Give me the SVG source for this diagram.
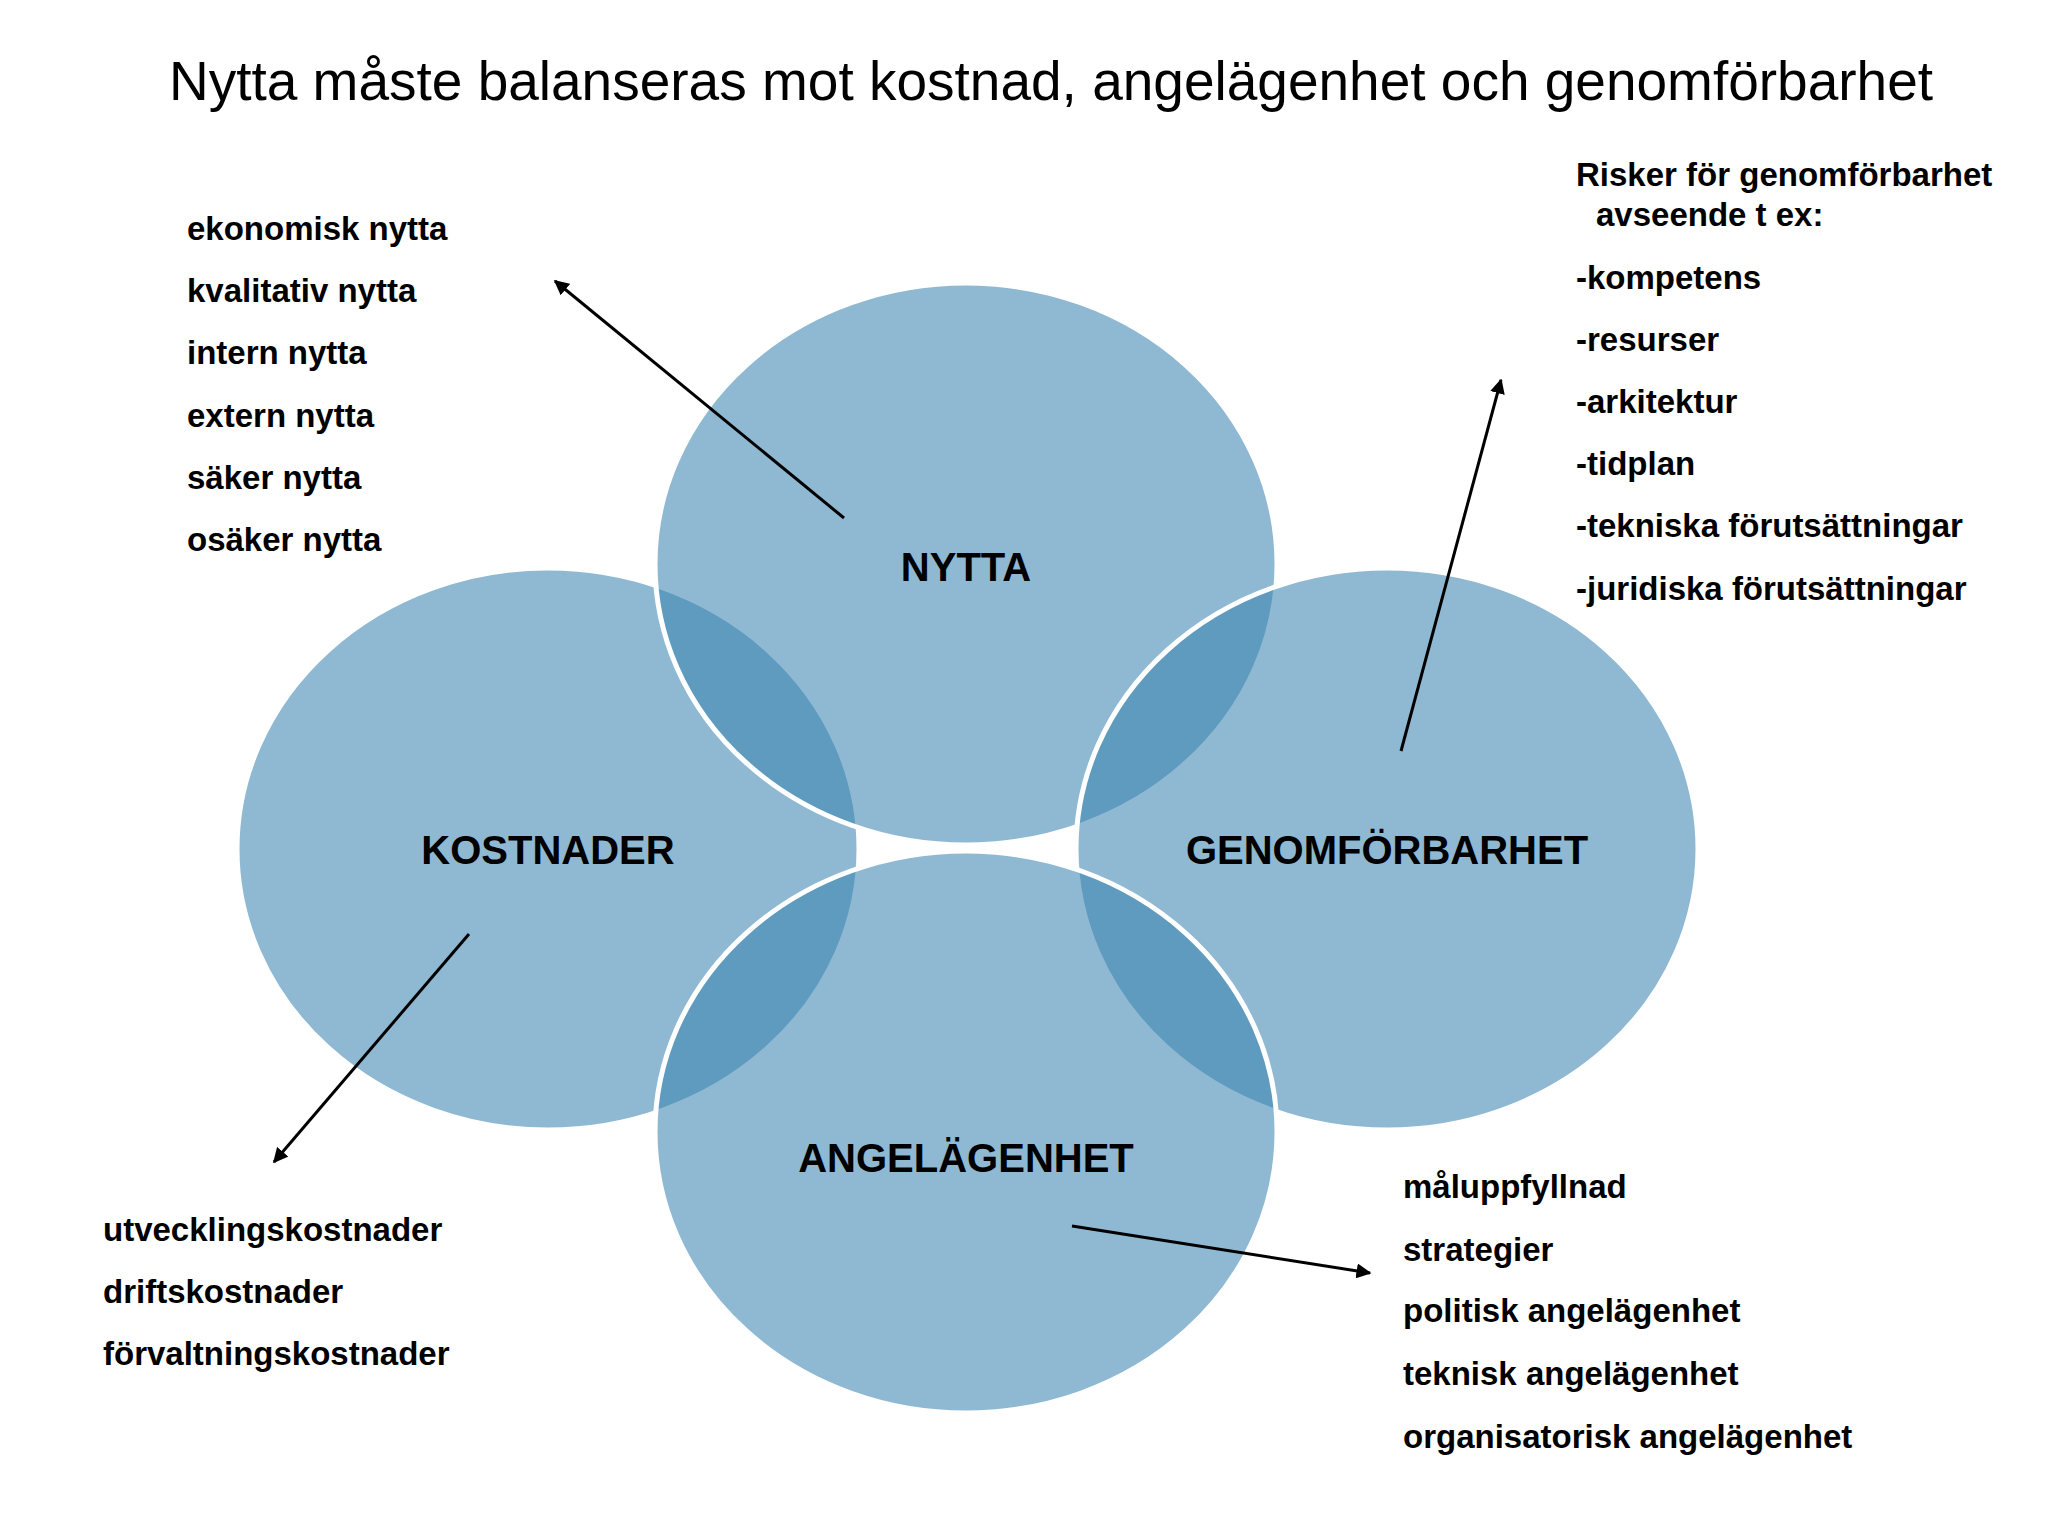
<svg xmlns="http://www.w3.org/2000/svg" width="2048" height="1536" viewBox="0 0 2048 1536">
<defs>
<style>
.c{fill:#3B84B0;fill-opacity:0.571;stroke:#fff;stroke-width:5}
.t{font-family:"Liberation Sans",Arial,sans-serif;font-weight:bold;font-size:33px;fill:#000}
.n{font-family:"Liberation Sans",Arial,sans-serif;font-weight:bold;font-size:40px;fill:#000;text-anchor:middle;dominant-baseline:central}
.a{stroke:#000;stroke-width:3;fill:none;marker-end:url(#ah)}
</style>
<marker id="ah" viewBox="0 0 10 10" refX="9" refY="5" markerWidth="5" markerHeight="5" orient="auto"><path d="M0,0L10,5L0,10z" fill="#000"/></marker>
</defs>
<rect width="2048" height="1536" fill="#fff"/>
<text x="1051" y="100" font-family="Liberation Sans,Arial,sans-serif" font-size="55" text-anchor="middle">Nytta måste balanseras mot kostnad, angelägenhet och genomförbarhet</text>
<g id="kostnader"><ellipse class="c" cx="548" cy="849" rx="311" ry="281"/></g>
<g id="nytta"><ellipse class="c" cx="966" cy="564" rx="311" ry="281"/></g>
<g id="genomforbarhet"><ellipse class="c" cx="1387" cy="849" rx="311" ry="281"/></g>
<g id="angelagenhet"><ellipse class="c" cx="966" cy="1132" rx="311" ry="281"/></g>
<text class="n" x="966" y="567">NYTTA</text>
<text class="n" x="548" y="850">KOSTNADER</text>
<text class="n" x="1387" y="850">GENOMFÖRBARHET</text>
<text class="n" x="966" y="1158">ANGELÄGENHET</text>
<g id="connectors">
<line class="a" x1="844" y1="518" x2="555" y2="281"/>
<line class="a" x1="1401" y1="751" x2="1501" y2="380"/>
<line class="a" x1="469" y1="934" x2="274" y2="1162"/>
<line class="a" x1="1072" y1="1226" x2="1370" y2="1273"/>
</g>
<g id="nytta-list" class="t">
<text x="187" y="240">ekonomisk nytta</text>
<text x="187" y="302">kvalitativ nytta</text>
<text x="187" y="364">intern nytta</text>
<text x="187" y="427">extern nytta</text>
<text x="187" y="489">säker nytta</text>
<text x="187" y="551">osäker nytta</text>
</g>
<g id="genom-list" class="t">
<text x="1576" y="186">Risker för genomförbarhet</text>
<text x="1596" y="226">avseende t ex:</text>
<text x="1576" y="289">-kompetens</text>
<text x="1576" y="351">-resurser</text>
<text x="1576" y="413">-arkitektur</text>
<text x="1576" y="475">-tidplan</text>
<text x="1576" y="537">-tekniska förutsättningar</text>
<text x="1576" y="600">-juridiska förutsättningar</text>
</g>
<g id="kost-list" class="t">
<text x="103" y="1241">utvecklingskostnader</text>
<text x="103" y="1303">driftskostnader</text>
<text x="103" y="1365">förvaltningskostnader</text>
</g>
<g id="angel-list" class="t">
<text x="1403" y="1198">måluppfyllnad</text>
<text x="1403" y="1261">strategier</text>
<text x="1403" y="1322">politisk angelägenhet</text>
<text x="1403" y="1385">teknisk angelägenhet</text>
<text x="1403" y="1448">organisatorisk angelägenhet</text>
</g>
</svg>
